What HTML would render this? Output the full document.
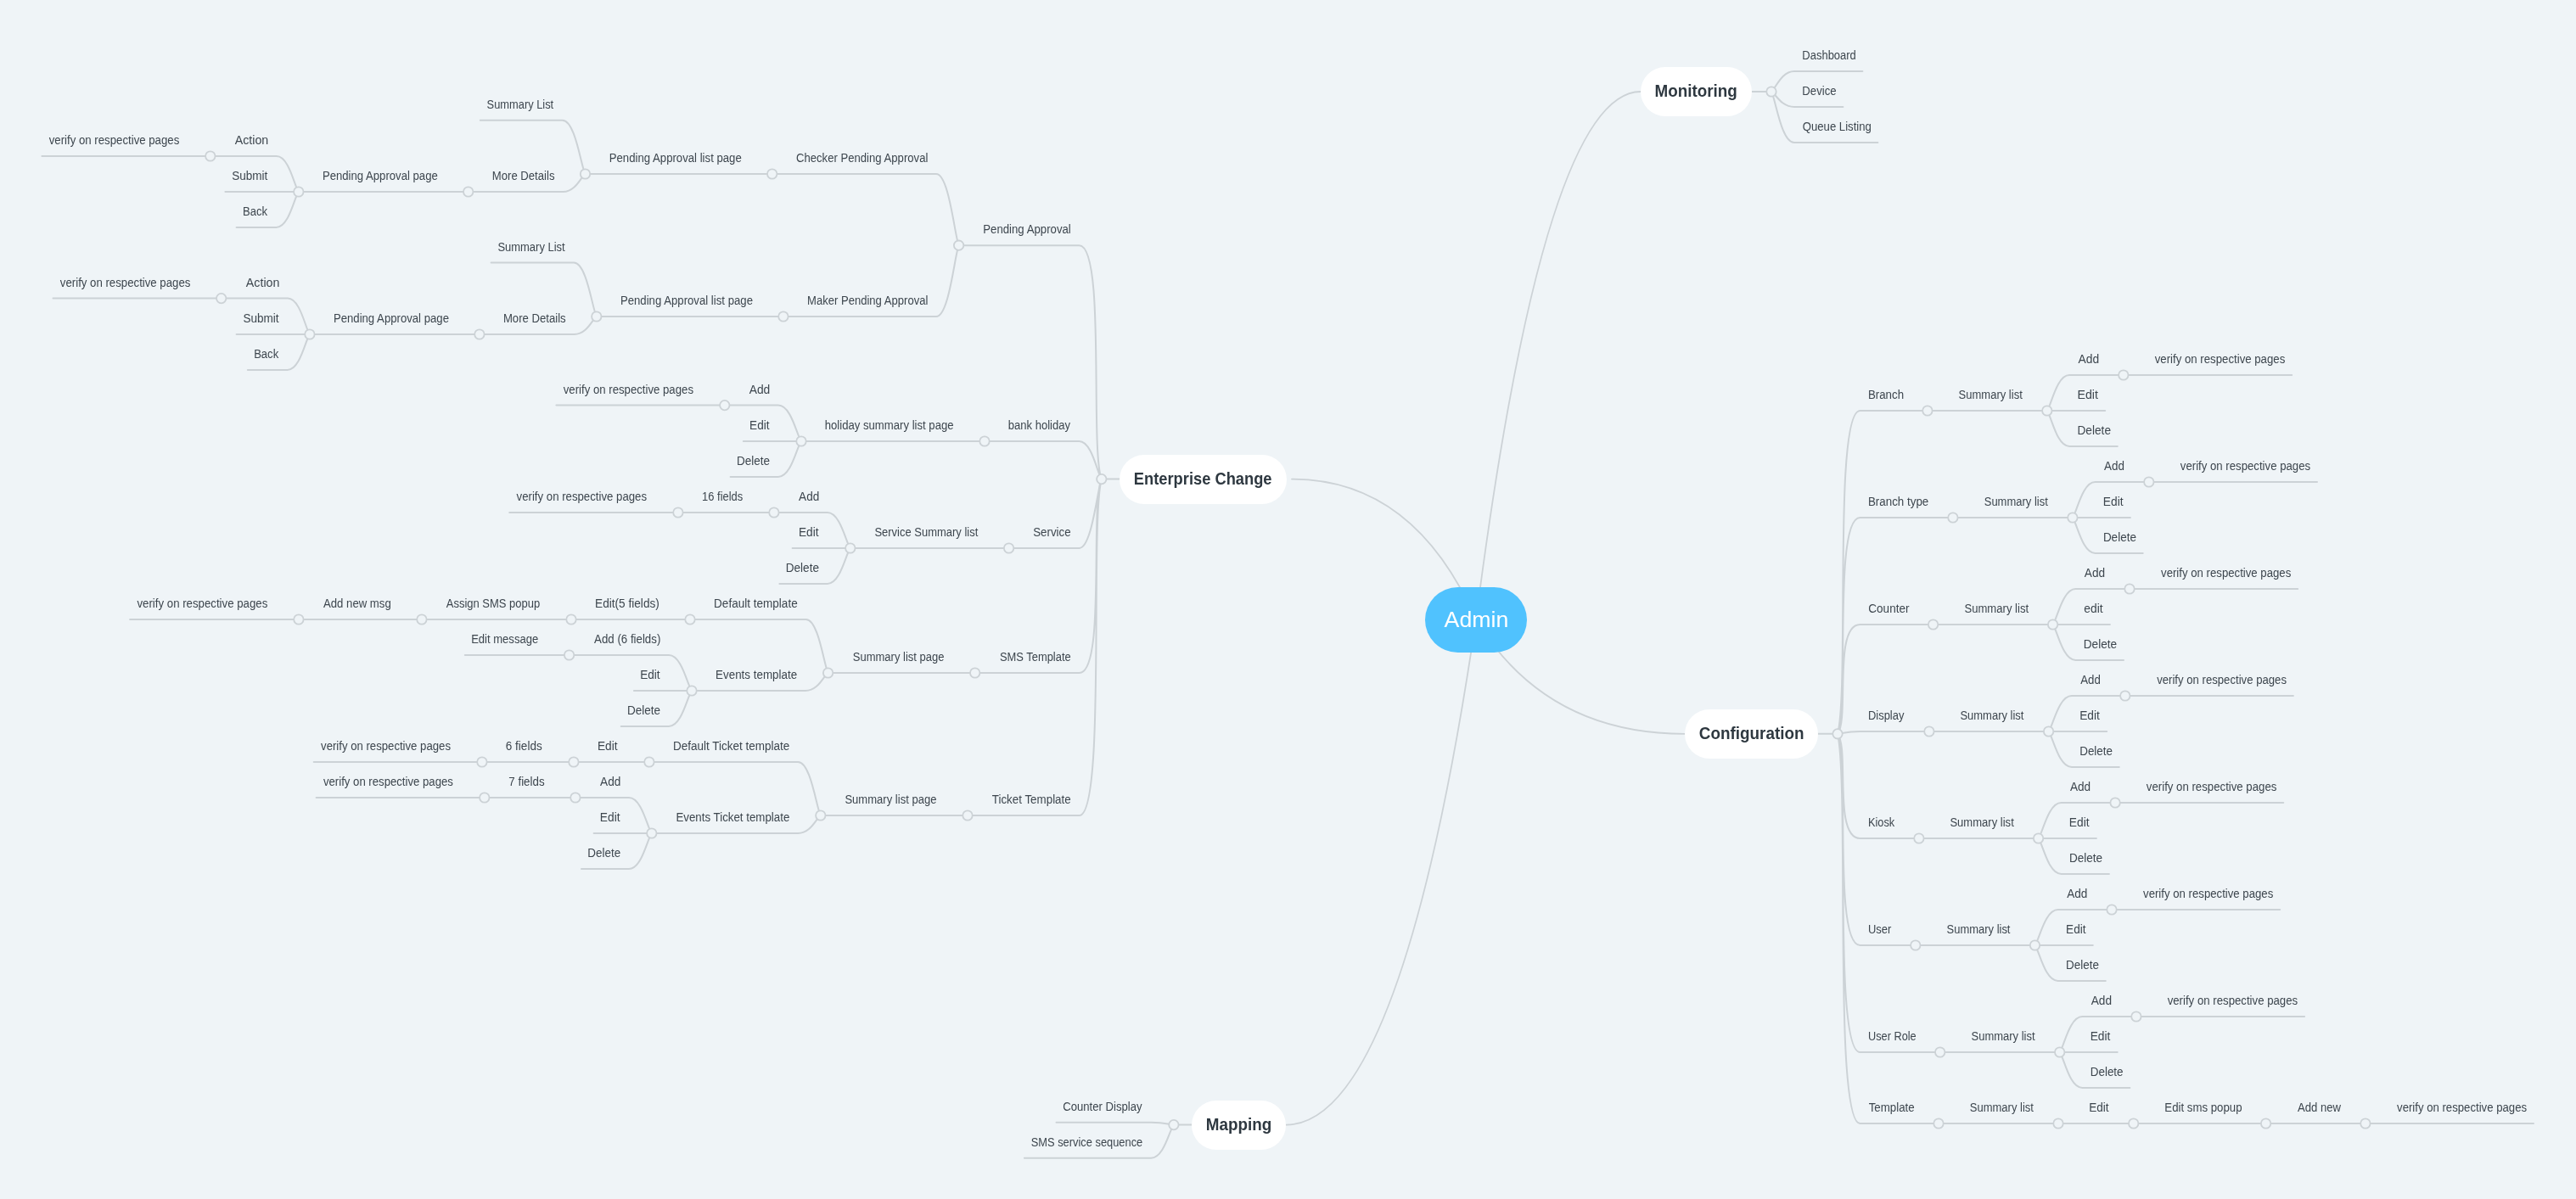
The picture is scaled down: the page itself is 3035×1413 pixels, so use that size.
<!DOCTYPE html><html><head><meta charset="utf-8"><title>Admin mind map</title><style>
html,body{margin:0;padding:0;background:#eff4f7;}body{width:3035px;height:1413px;overflow:hidden;}svg{display:block;will-change:transform;font-family:"Liberation Sans",sans-serif;}text{font-kerning:normal;}
</style></head><body>
<svg width="3035" height="1413" viewBox="0 0 3035 1413">
<rect width="3035" height="1413" fill="#eff4f7"/>
<path d="M1739 730.3Q1819 108 1933 108 M1739 730.3Q1821 864.8 1985 864.8 M1739 730.3Q1666 564.6 1522 564.6 M1739 730.3Q1651 1325.6 1515 1325.6" fill="none" stroke="#ccd2d6" stroke-width="1.8" stroke-linecap="round"/>
<path d="M2113.9 84L2194.4 84 M2087 108C2091.95 104.71 2098.54 84 2113.9 84 M2113.9 126L2171.4 126 M2087 108C2091.95 110.47 2098.54 126 2113.9 126 M2113.9 168L2212.4 168 M2087 108C2091.95 116.22 2098.54 168 2113.9 168 M2191.5 484L2270.9 484 M2165 864.8C2179.05 814.53 2159.65 484 2191.5 484 M2297.7 484L2411.8 484 M2270.9 484L2297.7 484 M2438.1 442L2501.8 442 M2411.8 484C2416.64 478.25 2423.08 442 2438.1 442 M2528.3 442L2700.2 442 M2501.8 442L2528.3 442 M2438.1 484L2480.2 484 M2411.8 484L2438.1 484 M2438.1 526L2494.8 526 M2411.8 484C2416.64 489.75 2423.08 526 2438.1 526 M2191.5 610L2300.9 610 M2165 864.8C2179.05 831.17 2159.65 610 2191.5 610 M2327.8 610L2441.9 610 M2300.9 610L2327.8 610 M2468.5 568L2531.8 568 M2441.9 610C2446.79 604.25 2453.31 568 2468.5 568 M2558.4 568L2730 568 M2531.8 568L2558.4 568 M2468.5 610L2509.9 610 M2441.9 610L2468.5 610 M2468.5 652L2524.7 652 M2441.9 610C2446.79 615.75 2453.31 652 2468.5 652 M2191.5 736L2277.6 736 M2165 864.8C2179.05 847.8 2159.65 736 2191.5 736 M2304.5 736L2418.6 736 M2277.6 736L2304.5 736 M2445.4 694L2509 694 M2418.6 736C2423.53 730.25 2430.1 694 2445.4 694 M2535.6 694L2707.2 694 M2509 694L2535.6 694 M2445.4 736L2485.9 736 M2418.6 736L2445.4 736 M2445.4 778L2502 778 M2418.6 736C2423.53 741.75 2430.1 778 2445.4 778 M2191.5 862L2272.9 862 M2165 864.8C2169.88 864.42 2176.37 862 2191.5 862 M2299.5 862L2413.6 862 M2272.9 862L2299.5 862 M2440.8 820L2503.8 820 M2413.6 862C2418.6 856.25 2425.27 820 2440.8 820 M2530.7 820L2701.9 820 M2503.8 820L2530.7 820 M2440.8 862L2482.2 862 M2413.6 862L2440.8 862 M2440.8 904L2496.8 904 M2413.6 862C2418.6 867.75 2425.27 904 2440.8 904 M2191.5 988L2260.9 988 M2165 864.8C2179.05 881.06 2159.65 988 2191.5 988 M2287.5 988L2401.6 988 M2260.9 988L2287.5 988 M2428.5 946L2492.1 946 M2401.6 988C2406.55 982.25 2413.14 946 2428.5 946 M2518.4 946L2690.3 946 M2492.1 946L2518.4 946 M2428.5 988L2469.9 988 M2401.6 988L2428.5 988 M2428.5 1030L2484.9 1030 M2401.6 988C2406.55 993.75 2413.14 1030 2428.5 1030 M2191.5 1114L2256.8 1114 M2165 864.8C2179.05 897.69 2159.65 1114 2191.5 1114 M2283.7 1114L2397.5 1114 M2256.8 1114L2283.7 1114 M2424.7 1072L2488 1072 M2397.5 1114C2402.5 1108.25 2409.17 1072 2424.7 1072 M2514.6 1072L2686.2 1072 M2488 1072L2514.6 1072 M2424.7 1114L2465.8 1114 M2397.5 1114L2424.7 1114 M2424.7 1156L2480.8 1156 M2397.5 1114C2402.5 1119.75 2409.17 1156 2424.7 1156 M2191.5 1240L2285.7 1240 M2165 864.8C2179.05 914.33 2159.65 1240 2191.5 1240 M2312.6 1240L2426.7 1240 M2285.7 1240L2312.6 1240 M2453.3 1198L2516.9 1198 M2426.7 1240C2431.59 1234.25 2438.11 1198 2453.3 1198 M2543.2 1198L2715.1 1198 M2516.9 1198L2543.2 1198 M2453.3 1240L2494.7 1240 M2426.7 1240L2453.3 1240 M2453.3 1282L2509.4 1282 M2426.7 1240C2431.59 1245.75 2438.11 1282 2453.3 1282 M2191.5 1324L2284 1324 M2165 864.8C2179.05 925.41 2159.65 1324 2191.5 1324 M2310.9 1324L2425 1324 M2284 1324L2310.9 1324 M2451.8 1324L2513.7 1324 M2425 1324L2451.8 1324 M2540.9 1324L2669.6 1324 M2513.7 1324L2540.9 1324 M2696.5 1324L2786.9 1324 M2669.6 1324L2696.5 1324 M2813.6 1324L2985 1324 M2786.9 1324L2813.6 1324 M1271.4 289.2L1129.6 289.2 M1297.8 564.6C1283.81 528.25 1303.13 289.2 1271.4 289.2 M1103 205L909.7 205 M1129.6 289.2C1124.71 277.66 1118.19 205 1103 205 M883.7 205L689.5 205 M909.7 205L883.7 205 M662.6 141.7L565.8 141.7 M689.5 205C684.55 196.33 677.96 141.7 662.6 141.7 M663.5 226L551.7 226 M689.5 205C684.72 207.88 678.35 226 663.5 226 M525.7 226L351.8 226 M551.7 226L525.7 226 M325.8 184L247.8 184 M351.8 226C347.02 220.25 340.65 184 325.8 184 M221.3 184L49.4 184 M247.8 184L221.3 184 M325.8 226L265.4 226 M351.8 226L325.8 226 M325.5 268L278.6 268 M351.8 226C346.96 231.75 340.52 268 325.5 268 M1103 373L922.9 373 M1129.6 289.2C1124.71 300.68 1118.19 373 1103 373 M896.9 373L702.8 373 M922.9 373L896.9 373 M676.1 309.6L578.6 309.6 M702.8 373C697.89 364.31 691.35 309.6 676.1 309.6 M676.7 394L564.9 394 M702.8 373C698 375.88 691.6 394 676.7 394 M538.9 394L364.9 394 M564.9 394L538.9 394 M339 351.6L260.7 351.6 M364.9 394C360.13 388.19 353.79 351.6 339 351.6 M234.4 351.6L62.5 351.6 M260.7 351.6L234.4 351.6 M339 394L278.6 394 M364.9 394L339 394 M338.7 436L291.8 436 M364.9 394C360.08 399.75 353.66 436 338.7 436 M1271.5 520L1160 520 M1297.8 564.6C1292.96 558.49 1286.52 520 1271.5 520 M1133.5 520L944 520 M1160 520L1133.5 520 M916.9 477.6L853.8 477.6 M944 520C939.01 514.19 932.37 477.6 916.9 477.6 M827 477.6L655.4 477.6 M853.8 477.6L827 477.6 M916.9 520L875.8 520 M944 520L916.9 520 M916.9 562L860.6 562 M944 520C939.01 525.75 932.37 562 916.9 562 M1271.5 646L1188.6 646 M1297.8 564.6C1292.96 575.75 1286.52 646 1271.5 646 M1162.7 646L1001.8 646 M1188.6 646L1162.7 646 M974.9 604L911.9 604 M1001.8 646C996.85 640.25 990.26 604 974.9 604 M885.3 604L798.9 604 M911.9 604L885.3 604 M772.1 604L600.2 604 M798.9 604L772.1 604 M974.9 646L933.6 646 M1001.8 646L974.9 646 M974.9 688L918.4 688 M1001.8 646C996.85 651.75 990.26 688 974.9 688 M1271.6 793L1148.7 793 M1297.8 564.6C1283.91 594.75 1303.09 793 1271.6 793 M1122.4 793L975.6 793 M1148.7 793L1122.4 793 M949.6 730L813 730 M975.6 793C970.82 784.37 964.45 730 949.6 730 M786.5 730L673 730 M813 730L786.5 730 M646.1 730L496.9 730 M673 730L646.1 730 M470.4 730L351.9 730 M496.9 730L470.4 730 M325.3 730L153.1 730 M351.9 730L325.3 730 M949 814L815 814 M975.6 793C970.71 795.88 964.19 814 949 814 M788 772L670.6 772 M815 814C810.03 808.25 803.42 772 788 772 M644.1 772L547.8 772 M670.6 772L644.1 772 M788 814L746.9 814 M815 814L788 814 M788 856L731.7 856 M815 814C810.03 819.75 803.42 856 788 856 M1271.6 961L1140 961 M1297.8 564.6C1283.91 616.92 1303.09 961 1271.6 961 M1113.4 961L966.8 961 M1140 961L1113.4 961 M940.2 898L764.9 898 M966.8 961C961.91 952.37 955.39 898 940.2 898 M738 898L675.9 898 M764.9 898L738 898 M648.7 898L567.9 898 M675.9 898L648.7 898 M541 898L369.7 898 M567.9 898L541 898 M940.2 982L767.8 982 M966.8 961C961.91 963.88 955.39 982 940.2 982 M741 940L677.9 940 M767.8 982C762.87 976.25 756.3 940 741 940 M651.6 940L570.8 940 M677.9 940L651.6 940 M543.9 940L372.6 940 M570.8 940L543.9 940 M741 982L699.6 982 M767.8 982L741 982 M741 1024L685 1024 M767.8 982C762.87 987.75 756.3 1024 741 1024 M1356.1 1322.8L1244.5 1322.8 M1382.9 1325.6C1377.97 1325.22 1371.4 1322.8 1356.1 1322.8 M1356.2 1364.7L1206.9 1364.7 M1382.9 1325.6C1377.99 1330.96 1371.45 1364.7 1356.2 1364.7 M2062 108L2087 108 M2140 864.8L2165 864.8 M1297.8 564.6L1321 564.6 M1382.9 1325.6L1406 1325.6" fill="none" stroke="#ccd2d6" stroke-width="2" stroke-linecap="round"/>
<g fill="#eff4f7" stroke="#ccd2d6" stroke-width="1.8">
<circle cx="2270.9" cy="484" r="5.7"/>
<circle cx="2411.8" cy="484" r="5.7"/>
<circle cx="2501.8" cy="442" r="5.7"/>
<circle cx="2300.9" cy="610" r="5.7"/>
<circle cx="2441.9" cy="610" r="5.7"/>
<circle cx="2531.8" cy="568" r="5.7"/>
<circle cx="2277.6" cy="736" r="5.7"/>
<circle cx="2418.6" cy="736" r="5.7"/>
<circle cx="2509" cy="694" r="5.7"/>
<circle cx="2272.9" cy="862" r="5.7"/>
<circle cx="2413.6" cy="862" r="5.7"/>
<circle cx="2503.8" cy="820" r="5.7"/>
<circle cx="2260.9" cy="988" r="5.7"/>
<circle cx="2401.6" cy="988" r="5.7"/>
<circle cx="2492.1" cy="946" r="5.7"/>
<circle cx="2256.8" cy="1114" r="5.7"/>
<circle cx="2397.5" cy="1114" r="5.7"/>
<circle cx="2488" cy="1072" r="5.7"/>
<circle cx="2285.7" cy="1240" r="5.7"/>
<circle cx="2426.7" cy="1240" r="5.7"/>
<circle cx="2516.9" cy="1198" r="5.7"/>
<circle cx="2284" cy="1324" r="5.7"/>
<circle cx="2425" cy="1324" r="5.7"/>
<circle cx="2513.7" cy="1324" r="5.7"/>
<circle cx="2669.6" cy="1324" r="5.7"/>
<circle cx="2786.9" cy="1324" r="5.7"/>
<circle cx="1129.6" cy="289.2" r="5.7"/>
<circle cx="909.7" cy="205" r="5.7"/>
<circle cx="689.5" cy="205" r="5.7"/>
<circle cx="551.7" cy="226" r="5.7"/>
<circle cx="351.8" cy="226" r="5.7"/>
<circle cx="247.8" cy="184" r="5.7"/>
<circle cx="922.9" cy="373" r="5.7"/>
<circle cx="702.8" cy="373" r="5.7"/>
<circle cx="564.9" cy="394" r="5.7"/>
<circle cx="364.9" cy="394" r="5.7"/>
<circle cx="260.7" cy="351.6" r="5.7"/>
<circle cx="1160" cy="520" r="5.7"/>
<circle cx="944" cy="520" r="5.7"/>
<circle cx="853.8" cy="477.6" r="5.7"/>
<circle cx="1188.6" cy="646" r="5.7"/>
<circle cx="1001.8" cy="646" r="5.7"/>
<circle cx="911.9" cy="604" r="5.7"/>
<circle cx="798.9" cy="604" r="5.7"/>
<circle cx="1148.7" cy="793" r="5.7"/>
<circle cx="975.6" cy="793" r="5.7"/>
<circle cx="813" cy="730" r="5.7"/>
<circle cx="673" cy="730" r="5.7"/>
<circle cx="496.9" cy="730" r="5.7"/>
<circle cx="351.9" cy="730" r="5.7"/>
<circle cx="815" cy="814" r="5.7"/>
<circle cx="670.6" cy="772" r="5.7"/>
<circle cx="1140" cy="961" r="5.7"/>
<circle cx="966.8" cy="961" r="5.7"/>
<circle cx="764.9" cy="898" r="5.7"/>
<circle cx="675.9" cy="898" r="5.7"/>
<circle cx="567.9" cy="898" r="5.7"/>
<circle cx="767.8" cy="982" r="5.7"/>
<circle cx="677.9" cy="940" r="5.7"/>
<circle cx="570.8" cy="940" r="5.7"/>
<circle cx="2087" cy="108" r="5.7"/>
<circle cx="2165" cy="864.8" r="5.7"/>
<circle cx="1297.8" cy="564.6" r="5.7"/>
<circle cx="1382.9" cy="1325.6" r="5.7"/>
</g>
<rect x="1933" y="79" width="131" height="58" rx="29" fill="#ffffff"/><text x="1949.54" y="114.4" font-size="20.5" font-weight="bold" fill="#2e3840" textLength="97.33" lengthAdjust="spacingAndGlyphs">Monitoring</text><rect x="1985" y="836" width="157" height="58" rx="29" fill="#ffffff"/><text x="2001.83" y="871.2" font-size="20.5" font-weight="bold" fill="#2e3840" textLength="123.65" lengthAdjust="spacingAndGlyphs">Configuration</text><rect x="1319" y="536" width="197" height="58" rx="29" fill="#ffffff"/><text x="1335.87" y="571.3" font-size="20.5" font-weight="bold" fill="#2e3840" textLength="162.65" lengthAdjust="spacingAndGlyphs">Enterprise Change</text><rect x="1404" y="1297" width="111" height="58" rx="29" fill="#ffffff"/><text x="1420.84" y="1332.1" font-size="20.5" font-weight="bold" fill="#2e3840" textLength="77.52" lengthAdjust="spacingAndGlyphs">Mapping</text>
<rect x="1679" y="692" width="120" height="77" rx="38.5" fill="#50c2fe"/><text x="1701.55" y="739.1" font-size="26" font-weight="normal" fill="#ffffff" textLength="75.81" lengthAdjust="spacingAndGlyphs">Admin</text>
<g><text x="2123.34" y="70" font-size="14" font-weight="normal" fill="#3d464e" textLength="63.5" lengthAdjust="spacingAndGlyphs">Dashboard</text><text x="2123.32" y="112" font-size="14" font-weight="normal" fill="#3d464e" textLength="40.25" lengthAdjust="spacingAndGlyphs">Device</text><text x="2123.78" y="154" font-size="14" font-weight="normal" fill="#3d464e" textLength="81.06" lengthAdjust="spacingAndGlyphs">Queue Listing</text><text x="2200.91" y="470" font-size="14" font-weight="normal" fill="#3d464e" textLength="42.16" lengthAdjust="spacingAndGlyphs">Branch</text><text x="2307.61" y="470" font-size="14" font-weight="normal" fill="#3d464e" textLength="75.17" lengthAdjust="spacingAndGlyphs">Summary list</text><text x="2448.57" y="428" font-size="14" font-weight="normal" fill="#3d464e" textLength="24.62" lengthAdjust="spacingAndGlyphs">Add</text><text x="2538.76" y="428" font-size="14" font-weight="normal" fill="#3d464e" textLength="153.52" lengthAdjust="spacingAndGlyphs">verify on respective pages</text><text x="2447.44" y="470" font-size="14" font-weight="normal" fill="#3d464e" textLength="24.47" lengthAdjust="spacingAndGlyphs">Edit</text><text x="2447.48" y="512" font-size="14" font-weight="normal" fill="#3d464e" textLength="39.53" lengthAdjust="spacingAndGlyphs">Delete</text><text x="2200.9" y="596" font-size="14" font-weight="normal" fill="#3d464e" textLength="71.39" lengthAdjust="spacingAndGlyphs">Branch type</text><text x="2337.72" y="596" font-size="14" font-weight="normal" fill="#3d464e" textLength="75.07" lengthAdjust="spacingAndGlyphs">Summary list</text><text x="2478.97" y="554" font-size="14" font-weight="normal" fill="#3d464e" textLength="23.89" lengthAdjust="spacingAndGlyphs">Add</text><text x="2568.86" y="554" font-size="14" font-weight="normal" fill="#3d464e" textLength="153.22" lengthAdjust="spacingAndGlyphs">verify on respective pages</text><text x="2477.87" y="596" font-size="14" font-weight="normal" fill="#3d464e" textLength="23.73" lengthAdjust="spacingAndGlyphs">Edit</text><text x="2477.89" y="638" font-size="14" font-weight="normal" fill="#3d464e" textLength="39.01" lengthAdjust="spacingAndGlyphs">Delete</text><text x="2201.31" y="722" font-size="14" font-weight="normal" fill="#3d464e" textLength="48.2" lengthAdjust="spacingAndGlyphs">Counter</text><text x="2314.41" y="722" font-size="14" font-weight="normal" fill="#3d464e" textLength="75.67" lengthAdjust="spacingAndGlyphs">Summary list</text><text x="2455.87" y="680" font-size="14" font-weight="normal" fill="#3d464e" textLength="24.31" lengthAdjust="spacingAndGlyphs">Add</text><text x="2546.06" y="680" font-size="14" font-weight="normal" fill="#3d464e" textLength="153.22" lengthAdjust="spacingAndGlyphs">verify on respective pages</text><text x="2455.32" y="722" font-size="14" font-weight="normal" fill="#3d464e" textLength="22.28" lengthAdjust="spacingAndGlyphs">edit</text><text x="2454.78" y="764" font-size="14" font-weight="normal" fill="#3d464e" textLength="39.43" lengthAdjust="spacingAndGlyphs">Delete</text><text x="2200.94" y="848" font-size="14" font-weight="normal" fill="#3d464e" textLength="42.49" lengthAdjust="spacingAndGlyphs">Display</text><text x="2309.42" y="848" font-size="14" font-weight="normal" fill="#3d464e" textLength="75.07" lengthAdjust="spacingAndGlyphs">Summary list</text><text x="2451.27" y="806" font-size="14" font-weight="normal" fill="#3d464e" textLength="23.58" lengthAdjust="spacingAndGlyphs">Add</text><text x="2541.16" y="806" font-size="14" font-weight="normal" fill="#3d464e" textLength="152.82" lengthAdjust="spacingAndGlyphs">verify on respective pages</text><text x="2450.17" y="848" font-size="14" font-weight="normal" fill="#3d464e" textLength="23.73" lengthAdjust="spacingAndGlyphs">Edit</text><text x="2450.2" y="890" font-size="14" font-weight="normal" fill="#3d464e" textLength="38.8" lengthAdjust="spacingAndGlyphs">Delete</text><text x="2200.95" y="974" font-size="14" font-weight="normal" fill="#3d464e" textLength="31.34" lengthAdjust="spacingAndGlyphs">Kiosk</text><text x="2297.41" y="974" font-size="14" font-weight="normal" fill="#3d464e" textLength="75.37" lengthAdjust="spacingAndGlyphs">Summary list</text><text x="2438.97" y="932" font-size="14" font-weight="normal" fill="#3d464e" textLength="24.2" lengthAdjust="spacingAndGlyphs">Add</text><text x="2528.86" y="932" font-size="14" font-weight="normal" fill="#3d464e" textLength="153.52" lengthAdjust="spacingAndGlyphs">verify on respective pages</text><text x="2437.87" y="974" font-size="14" font-weight="normal" fill="#3d464e" textLength="23.73" lengthAdjust="spacingAndGlyphs">Edit</text><text x="2437.89" y="1016" font-size="14" font-weight="normal" fill="#3d464e" textLength="39.22" lengthAdjust="spacingAndGlyphs">Delete</text><text x="2201" y="1100" font-size="14" font-weight="normal" fill="#3d464e" textLength="27.41" lengthAdjust="spacingAndGlyphs">User</text><text x="2293.62" y="1100" font-size="14" font-weight="normal" fill="#3d464e" textLength="74.87" lengthAdjust="spacingAndGlyphs">Summary list</text><text x="2435.17" y="1058" font-size="14" font-weight="normal" fill="#3d464e" textLength="24.2" lengthAdjust="spacingAndGlyphs">Add</text><text x="2525.06" y="1058" font-size="14" font-weight="normal" fill="#3d464e" textLength="153.22" lengthAdjust="spacingAndGlyphs">verify on respective pages</text><text x="2434.09" y="1100" font-size="14" font-weight="normal" fill="#3d464e" textLength="23.41" lengthAdjust="spacingAndGlyphs">Edit</text><text x="2434.1" y="1142" font-size="14" font-weight="normal" fill="#3d464e" textLength="38.9" lengthAdjust="spacingAndGlyphs">Delete</text><text x="2201.02" y="1226" font-size="14" font-weight="normal" fill="#3d464e" textLength="56.64" lengthAdjust="spacingAndGlyphs">User Role</text><text x="2322.52" y="1226" font-size="14" font-weight="normal" fill="#3d464e" textLength="75.07" lengthAdjust="spacingAndGlyphs">Summary list</text><text x="2463.77" y="1184" font-size="14" font-weight="normal" fill="#3d464e" textLength="24.31" lengthAdjust="spacingAndGlyphs">Add</text><text x="2553.66" y="1184" font-size="14" font-weight="normal" fill="#3d464e" textLength="153.52" lengthAdjust="spacingAndGlyphs">verify on respective pages</text><text x="2462.67" y="1226" font-size="14" font-weight="normal" fill="#3d464e" textLength="23.73" lengthAdjust="spacingAndGlyphs">Edit</text><text x="2462.7" y="1268" font-size="14" font-weight="normal" fill="#3d464e" textLength="38.9" lengthAdjust="spacingAndGlyphs">Delete</text><text x="2201.71" y="1310" font-size="14" font-weight="normal" fill="#3d464e" textLength="53.99" lengthAdjust="spacingAndGlyphs">Template</text><text x="2320.82" y="1310" font-size="14" font-weight="normal" fill="#3d464e" textLength="75.07" lengthAdjust="spacingAndGlyphs">Summary list</text><text x="2461.19" y="1310" font-size="14" font-weight="normal" fill="#3d464e" textLength="23.41" lengthAdjust="spacingAndGlyphs">Edit</text><text x="2550.31" y="1310" font-size="14" font-weight="normal" fill="#3d464e" textLength="91.25" lengthAdjust="spacingAndGlyphs">Edit sms popup</text><text x="2706.97" y="1310" font-size="14" font-weight="normal" fill="#3d464e" textLength="51" lengthAdjust="spacingAndGlyphs">Add new</text><text x="2824.06" y="1310" font-size="14" font-weight="normal" fill="#3d464e" textLength="153.02" lengthAdjust="spacingAndGlyphs">verify on respective pages</text><text x="1158.22" y="275.2" font-size="14" font-weight="normal" fill="#3d464e" textLength="103.57" lengthAdjust="spacingAndGlyphs">Pending Approval</text><text x="937.93" y="191" font-size="14" font-weight="normal" fill="#3d464e" textLength="155.45" lengthAdjust="spacingAndGlyphs">Checker Pending Approval</text><text x="717.72" y="191" font-size="14" font-weight="normal" fill="#3d464e" textLength="156.06" lengthAdjust="spacingAndGlyphs">Pending Approval list page</text><text x="573.62" y="127.7" font-size="14" font-weight="normal" fill="#3d464e" textLength="78.56" lengthAdjust="spacingAndGlyphs">Summary List</text><text x="579.82" y="212" font-size="14" font-weight="normal" fill="#3d464e" textLength="73.65" lengthAdjust="spacingAndGlyphs">More Details</text><text x="379.92" y="212" font-size="14" font-weight="normal" fill="#3d464e" textLength="135.85" lengthAdjust="spacingAndGlyphs">Pending Approval page</text><text x="276.67" y="170" font-size="14" font-weight="normal" fill="#3d464e" textLength="39.56" lengthAdjust="spacingAndGlyphs">Action</text><text x="57.76" y="170" font-size="14" font-weight="normal" fill="#3d464e" textLength="153.52" lengthAdjust="spacingAndGlyphs">verify on respective pages</text><text x="273.19" y="212" font-size="14" font-weight="normal" fill="#3d464e" textLength="42.2" lengthAdjust="spacingAndGlyphs">Submit</text><text x="285.93" y="254" font-size="14" font-weight="normal" fill="#3d464e" textLength="29.06" lengthAdjust="spacingAndGlyphs">Back</text><text x="951.03" y="359" font-size="14" font-weight="normal" fill="#3d464e" textLength="142.35" lengthAdjust="spacingAndGlyphs">Maker Pending Approval</text><text x="730.92" y="359" font-size="14" font-weight="normal" fill="#3d464e" textLength="156.06" lengthAdjust="spacingAndGlyphs">Pending Approval list page</text><text x="586.42" y="295.6" font-size="14" font-weight="normal" fill="#3d464e" textLength="79.27" lengthAdjust="spacingAndGlyphs">Summary List</text><text x="592.92" y="380" font-size="14" font-weight="normal" fill="#3d464e" textLength="73.75" lengthAdjust="spacingAndGlyphs">More Details</text><text x="392.92" y="380" font-size="14" font-weight="normal" fill="#3d464e" textLength="136.06" lengthAdjust="spacingAndGlyphs">Pending Approval page</text><text x="289.87" y="337.6" font-size="14" font-weight="normal" fill="#3d464e" textLength="39.56" lengthAdjust="spacingAndGlyphs">Action</text><text x="70.86" y="337.6" font-size="14" font-weight="normal" fill="#3d464e" textLength="153.52" lengthAdjust="spacingAndGlyphs">verify on respective pages</text><text x="286.39" y="380" font-size="14" font-weight="normal" fill="#3d464e" textLength="42.2" lengthAdjust="spacingAndGlyphs">Submit</text><text x="299.13" y="422" font-size="14" font-weight="normal" fill="#3d464e" textLength="29.06" lengthAdjust="spacingAndGlyphs">Back</text><text x="1187.76" y="506" font-size="14" font-weight="normal" fill="#3d464e" textLength="73.26" lengthAdjust="spacingAndGlyphs">bank holiday</text><text x="971.69" y="506" font-size="14" font-weight="normal" fill="#3d464e" textLength="151.89" lengthAdjust="spacingAndGlyphs">holiday summary list page</text><text x="882.67" y="463.6" font-size="14" font-weight="normal" fill="#3d464e" textLength="24.62" lengthAdjust="spacingAndGlyphs">Add</text><text x="663.76" y="463.6" font-size="14" font-weight="normal" fill="#3d464e" textLength="153.22" lengthAdjust="spacingAndGlyphs">verify on respective pages</text><text x="883.09" y="506" font-size="14" font-weight="normal" fill="#3d464e" textLength="23.41" lengthAdjust="spacingAndGlyphs">Edit</text><text x="867.89" y="548" font-size="14" font-weight="normal" fill="#3d464e" textLength="39.11" lengthAdjust="spacingAndGlyphs">Delete</text><text x="1217.2" y="632" font-size="14" font-weight="normal" fill="#3d464e" textLength="44.39" lengthAdjust="spacingAndGlyphs">Service</text><text x="1030.42" y="632" font-size="14" font-weight="normal" fill="#3d464e" textLength="121.87" lengthAdjust="spacingAndGlyphs">Service Summary list</text><text x="941.07" y="590" font-size="14" font-weight="normal" fill="#3d464e" textLength="24.2" lengthAdjust="spacingAndGlyphs">Add</text><text x="827.12" y="590" font-size="14" font-weight="normal" fill="#3d464e" textLength="48.14" lengthAdjust="spacingAndGlyphs">16 fields</text><text x="608.56" y="590" font-size="14" font-weight="normal" fill="#3d464e" textLength="153.52" lengthAdjust="spacingAndGlyphs">verify on respective pages</text><text x="940.88" y="632" font-size="14" font-weight="normal" fill="#3d464e" textLength="23.62" lengthAdjust="spacingAndGlyphs">Edit</text><text x="925.68" y="674" font-size="14" font-weight="normal" fill="#3d464e" textLength="39.32" lengthAdjust="spacingAndGlyphs">Delete</text><text x="1177.92" y="779" font-size="14" font-weight="normal" fill="#3d464e" textLength="83.76" lengthAdjust="spacingAndGlyphs">SMS Template</text><text x="1004.81" y="779" font-size="14" font-weight="normal" fill="#3d464e" textLength="107.65" lengthAdjust="spacingAndGlyphs">Summary list page</text><text x="841.09" y="716" font-size="14" font-weight="normal" fill="#3d464e" textLength="98.6" lengthAdjust="spacingAndGlyphs">Default template</text><text x="701.08" y="716" font-size="14" font-weight="normal" fill="#3d464e" textLength="75.76" lengthAdjust="spacingAndGlyphs">Edit(5 fields)</text><text x="525.77" y="716" font-size="14" font-weight="normal" fill="#3d464e" textLength="110.37" lengthAdjust="spacingAndGlyphs">Assign SMS popup</text><text x="380.97" y="716" font-size="14" font-weight="normal" fill="#3d464e" textLength="79.78" lengthAdjust="spacingAndGlyphs">Add new msg</text><text x="161.46" y="716" font-size="14" font-weight="normal" fill="#3d464e" textLength="153.82" lengthAdjust="spacingAndGlyphs">verify on respective pages</text><text x="843.1" y="800" font-size="14" font-weight="normal" fill="#3d464e" textLength="95.99" lengthAdjust="spacingAndGlyphs">Events template</text><text x="700.07" y="758" font-size="14" font-weight="normal" fill="#3d464e" textLength="78.25" lengthAdjust="spacingAndGlyphs">Add (6 fields)</text><text x="555.13" y="758" font-size="14" font-weight="normal" fill="#3d464e" textLength="79.05" lengthAdjust="spacingAndGlyphs">Edit message</text><text x="754.19" y="800" font-size="14" font-weight="normal" fill="#3d464e" textLength="23.41" lengthAdjust="spacingAndGlyphs">Edit</text><text x="738.99" y="842" font-size="14" font-weight="normal" fill="#3d464e" textLength="39.11" lengthAdjust="spacingAndGlyphs">Delete</text><text x="1168.81" y="947" font-size="14" font-weight="normal" fill="#3d464e" textLength="92.89" lengthAdjust="spacingAndGlyphs">Ticket Template</text><text x="995.41" y="947" font-size="14" font-weight="normal" fill="#3d464e" textLength="108.06" lengthAdjust="spacingAndGlyphs">Summary list page</text><text x="792.89" y="884" font-size="14" font-weight="normal" fill="#3d464e" textLength="137.41" lengthAdjust="spacingAndGlyphs">Default Ticket template</text><text x="703.98" y="884" font-size="14" font-weight="normal" fill="#3d464e" textLength="23.62" lengthAdjust="spacingAndGlyphs">Edit</text><text x="595.81" y="884" font-size="14" font-weight="normal" fill="#3d464e" textLength="42.88" lengthAdjust="spacingAndGlyphs">6 fields</text><text x="378.06" y="884" font-size="14" font-weight="normal" fill="#3d464e" textLength="152.92" lengthAdjust="spacingAndGlyphs">verify on respective pages</text><text x="796.41" y="968" font-size="14" font-weight="normal" fill="#3d464e" textLength="133.88" lengthAdjust="spacingAndGlyphs">Events Ticket template</text><text x="707.07" y="926" font-size="14" font-weight="normal" fill="#3d464e" textLength="24.31" lengthAdjust="spacingAndGlyphs">Add</text><text x="599.32" y="926" font-size="14" font-weight="normal" fill="#3d464e" textLength="42.27" lengthAdjust="spacingAndGlyphs">7 fields</text><text x="380.96" y="926" font-size="14" font-weight="normal" fill="#3d464e" textLength="152.92" lengthAdjust="spacingAndGlyphs">verify on respective pages</text><text x="706.87" y="968" font-size="14" font-weight="normal" fill="#3d464e" textLength="23.73" lengthAdjust="spacingAndGlyphs">Edit</text><text x="692.3" y="1010" font-size="14" font-weight="normal" fill="#3d464e" textLength="38.8" lengthAdjust="spacingAndGlyphs">Delete</text><text x="1252.23" y="1308.8" font-size="14" font-weight="normal" fill="#3d464e" textLength="93.4" lengthAdjust="spacingAndGlyphs">Counter Display</text><text x="1214.72" y="1350.7" font-size="14" font-weight="normal" fill="#3d464e" textLength="131.55" lengthAdjust="spacingAndGlyphs">SMS service sequence</text></g>
</svg></body></html>
